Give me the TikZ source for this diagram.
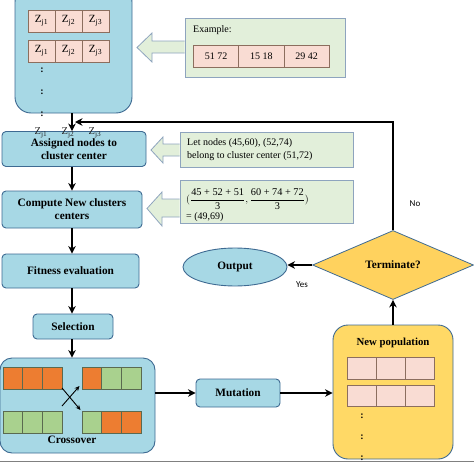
\documentclass[tikz,border=0pt]{standalone}
\usepackage{fontspec}
\setmainfont{Liberation Serif}
\newfontfamily\labfont{Carlito}
\usetikzlibrary{arrows.meta,shapes.geometric}
\definecolor{boxblue}{HTML}{A7D8E5}
\definecolor{boxline}{HTML}{3E6A92}
\definecolor{exgreen}{HTML}{E2EFDA}
\definecolor{exline}{HTML}{8EA4BE}
\definecolor{cellpink}{HTML}{F9DCD3}
\definecolor{pinkline}{HTML}{8C6E5E}
\definecolor{cellorange}{HTML}{ED7D31}
\definecolor{cellgreen}{HTML}{A9D18E}
\definecolor{cellline}{HTML}{5A6A50}
\definecolor{popyellow}{HTML}{FFD966}
\definecolor{bottomgray}{HTML}{808080}
\tikzset{
  bluebox/.style={draw=boxline, fill=boxblue, line width=0.9pt, rounded corners=4pt,
    font=\bfseries\fontsize{11.3}{13}\selectfont, align=center, inner sep=0pt},
  greenbox/.style={draw=exline, fill=exgreen, line width=0.8pt, inner sep=0pt},
  pinkcell/.style={draw=pinkline, fill=cellpink, line width=0.6pt, minimum width=27pt,
    minimum height=22pt, inner sep=0pt, font=\fontsize{11}{12}\selectfont},
  excell/.style={draw=pinkline, fill=cellpink, line width=0.6pt, minimum width=45.3pt,
    minimum height=22pt, inner sep=0pt, font=\fontsize{10}{11}\selectfont},
  popcell/.style={draw=pinkline, fill=cellpink, line width=0.6pt, minimum width=29pt,
    minimum height=21.5pt, inner sep=0pt},
  ocell/.style={draw=cellline, fill=cellorange, line width=0.6pt, minimum width=19.7pt,
    minimum height=22pt, inner sep=0pt},
  gcell/.style={draw=cellline, fill=cellgreen, line width=0.6pt, minimum width=19.7pt,
    minimum height=22pt, inner sep=0pt},
  arr/.style={line width=2.6pt, -{Stealth[length=7.5pt,width=7.5pt]}},
  thinarr/.style={line width=0.9pt, -{Stealth[length=5pt,width=4.5pt]}},
  hollow/.style={draw=exline, fill=exgreen, line width=0.8pt},
  dotsty/.style={inner sep=0pt, font=\bfseries\fontsize{10}{12}\selectfont},
  lab/.style={font=\labfont\fontsize{9}{11}\selectfont, inner sep=0pt},
  bodytext/.style={font=\fontsize{10}{12.5}\selectfont, align=left, inner sep=0pt}
}
\begin{document}
\begin{tikzpicture}[x=1pt,y=-1pt]
\useasboundingbox (0,0) rectangle (474,474);
\clip (0,0) rectangle (474,474);

% bottom gray line
\draw[bottomgray, line width=1.4pt] (0,461.5) -- (474,461.5);

% top population box
\node[draw=boxline, fill=boxblue, line width=0.9pt, rounded corners=16pt,
  minimum width=117pt, minimum height=127pt, inner sep=0pt] (topbox) at (73.5,49.5) {};
\foreach \r/\y in {1/21,2/51}{
  \node[pinkcell] (t\r a) at (41.5,\y) {Z\textsubscript{j1}};
  \node[pinkcell] (t\r b) at (68.5,\y) {Z\textsubscript{j2}};
  \node[pinkcell] (t\r c) at (95.5,\y) {Z\textsubscript{j3}};
}
\node[dotsty] (td1) at (42,70) {:};
\node[dotsty] (td2) at (42,92) {:};
\node[dotsty] (td3) at (42,114) {:};

% example box
\node[greenbox, minimum width=160pt, minimum height=59pt] (ex) at (265,47.5) {};
\node[anchor=west, font=\fontsize{10}{12}\selectfont, inner sep=0pt] (exlab) at (193,30) {Example:};
\node[excell] (ex1) at (216,56) {51 72};
\node[excell] (ex2) at (261.3,56) {15 18};
\node[excell] (ex3) at (306.6,56) {29 42};
\draw[hollow] (ex.west |- 0,41) -- (152,41) -- (152,33) -- (137,47.5) -- (152,62) -- (152,53) -- (ex.west |- 0,53);

% feedback corner
\coordinate (fb) at (393,122);
\coordinate (fbend) at (75,122);

% assigned
\node[bluebox, minimum width=144pt, minimum height=35pt] (assigned) at (74,149)
  {Assigned nodes to\\cluster center};
\node[inner sep=0pt, font=\fontsize{10.5}{12}\selectfont, text=black!85] (zz1) at (41,133) {Z\textsubscript{j1}};
\node[inner sep=0pt, font=\fontsize{10.5}{12}\selectfont, text=black!85] (zz2) at (68,133) {Z\textsubscript{j2}};
\node[inner sep=0pt, font=\fontsize{10.5}{12}\selectfont, text=black!85] (zz3) at (95,133) {Z\textsubscript{j3}};

% let nodes box
\node[greenbox, minimum width=173pt, minimum height=35pt] (letbox) at (266.5,149.5) {};
\node[bodytext, anchor=west] (lettext) at (187,149.5) {Let nodes (45,60), (52,74)\\belong to cluster center (51,72)};
\draw[hollow] (letbox.west |- 0,144) -- (163,144) -- (163,137) -- (151,150) -- (163,163) -- (163,156) -- (letbox.west |- 0,156);

% compute
\node[bluebox, minimum width=140pt, minimum height=37pt] (compute) at (72,209.5)
  {Compute New clusters\\centers};

% formula box
\node[greenbox, minimum width=173pt, minimum height=43pt] (formbox) at (266.5,201.5) {};
\node[inner sep=0pt, anchor=west, font=\fontsize{10.3}{12}\selectfont] (formula) at (186,199)
  {$\displaystyle(\frac{\mbox{45 + 52 + 51}}{\mbox{3}},\frac{\mbox{60 + 74 + 72}}{\mbox{3}})$};
\node[inner sep=0pt, anchor=west, font=\fontsize{10}{12}\selectfont] (formres) at (186,217) {= (49,69)};
\draw[hollow] (formbox.west |- 0,199) -- (162,199) -- (162,192) -- (147,208.5) -- (162,226) -- (162,217) -- (formbox.west |- 0,217);

% fitness, selection
\node[bluebox, minimum width=137pt, minimum height=34pt] (fitness) at (70.5,271) {Fitness evaluation};
\node[bluebox, minimum width=80pt, minimum height=25pt] (selection) at (73,326.5) {Selection};

% crossover
\node[draw=boxline, fill=boxblue, line width=0.9pt, rounded corners=12pt,
  minimum width=155pt, minimum height=95pt, inner sep=0pt] (cross) at (77.5,405.5) {};
\node[ocell] (c1) at (12.85,378) {};
\node[ocell] (c2) at (32.55,378) {};
\node[ocell] (c3) at (52.25,378) {};
\node[ocell] (c4) at (91.85,378) {};
\node[gcell] (c5) at (111.55,378) {};
\node[gcell] (c6) at (131.25,378) {};
\node[gcell] (c7) at (12.85,422) {};
\node[gcell] (c8) at (32.55,422) {};
\node[gcell] (c9) at (52.25,422) {};
\node[gcell] (c10) at (91.85,422) {};
\node[ocell] (c11) at (111.55,422) {};
\node[ocell] (c12) at (131.25,422) {};
\coordinate (xa1) at (62,406);
\coordinate (xa2) at (79.5,386);
\coordinate (xb1) at (62,388);
\coordinate (xb2) at (80.5,410);
\draw[thinarr] (xa1) -- (xa2);
\draw[thinarr] (xb1) -- (xb2);
\node[inner sep=0pt, font=\bfseries\fontsize{11.3}{12}\selectfont] (crosslab) at (72,440) {Crossover};

% mutation
\node[bluebox, minimum width=84pt, minimum height=28pt] (mutation) at (238,393) {Mutation};

% new population
\node[draw=boxline, fill=popyellow, line width=0.9pt, rounded corners=15pt,
  minimum width=120pt, minimum height=134pt, inner sep=0pt] (newpop) at (393,392) {};
\node[inner sep=0pt, font=\bfseries\fontsize{10.8}{12}\selectfont] (newpoplab) at (393,343) {New population};
\node[popcell] (p1) at (361.5,368.5) {};
\node[popcell] (p2) at (390.5,368.5) {};
\node[popcell] (p3) at (419.5,368.5) {};
\node[popcell] (p4) at (361.5,396) {};
\node[popcell] (p5) at (390.5,396) {};
\node[popcell] (p6) at (419.5,396) {};
\node[dotsty] (pd1) at (362,416) {:};
\node[dotsty] (pd2) at (362,437) {:};
\node[dotsty] (pd3) at (362,458) {:};

% diamond
\node[diamond, draw=boxline, fill=popyellow!92!orange, line width=0.8pt, aspect=2.33,
  minimum width=161pt, minimum height=69pt, inner sep=0pt,
  font=\bfseries\fontsize{11.3}{12}\selectfont] (term) at (393,265) {Terminate?};

% output
\node[ellipse, draw=boxline, fill=boxblue, line width=0.9pt, minimum width=104pt,
  minimum height=38pt, inner sep=0pt, font=\bfseries\fontsize{11.3}{12}\selectfont] (output) at (235,267) {Output};

% labels
\node[lab] (nolab) at (415,204) {No};
\node[lab] (yeslab) at (302,285) {Yes};

% connectors
\coordinate (colx) at (72,0);
\draw[arr] (topbox.south -| colx) -- (assigned.north -| colx);
\draw[arr] (term.north) -- (fb) -- (fbend);
\draw[arr] (assigned.south -| colx) -- (compute.north -| colx);
\draw[arr] (compute.south -| colx) -- (fitness.north -| colx);
\draw[arr] (fitness.south -| colx) -- (selection.north -| colx);
\draw[arr] (selection.south -| colx) -- (cross.north -| colx);
\draw[arr] (cross.east |- 0,393) -- (mutation.west);
\draw[arr] (mutation.east) -- (newpop.west |- mutation.east);
\draw[arr] (newpop.north) -- (term.south);
\draw[arr] (term.west) -- (output.east |- term.west);
\end{tikzpicture}
\end{document}
